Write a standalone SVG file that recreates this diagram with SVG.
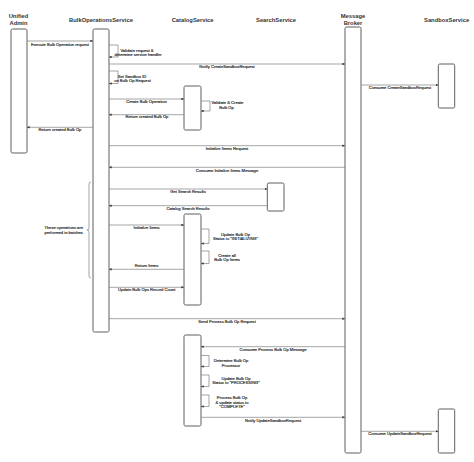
<svg xmlns="http://www.w3.org/2000/svg" width="474" height="462" viewBox="0 0 474 462">
<defs>
<marker id="ah" viewBox="0 0 6 6" refX="6" refY="3" markerWidth="3" markerHeight="2.6" markerUnits="userSpaceOnUse" orient="auto"><path d="M0,0 L6,3 L0,6 z" fill="#333"/></marker>
</defs>
<style>
.act{fill:#fff;stroke:#5f5f5f;stroke-width:1}
.hdr{font-family:"Liberation Sans",Arial,sans-serif;font-weight:bold;font-size:5.8px;fill:#333;text-anchor:middle}
.lbl{font-family:"Liberation Sans",Arial,sans-serif;font-size:4.1px;fill:#222;stroke:#222;stroke-width:0.15;text-anchor:middle}
.msg{fill:none;stroke:#808080;stroke-width:0.7;marker-end:url(#ah)}
.brace{fill:none;stroke:#808080;stroke-width:0.7}
</style>
<rect width="474" height="462" fill="#fff"/>
<g id="unified-admin">
<text class="hdr" x="18.5" y="17.7">Unified</text>
<text class="hdr" x="18.5" y="25.2">Admin</text>
<rect class="act" x="11" y="29" width="16" height="124" rx="1.5"/>
</g>
<g id="bulk-operations-service">
<text class="hdr" x="101" y="21.5">BulkOperationsService</text>
<rect class="act" x="93" y="29" width="16" height="303" rx="1.5"/>
</g>
<g id="catalog-service">
<text class="hdr" x="192.6" y="22.1">CatalogService</text>
<rect class="act" x="184" y="86" width="17" height="44" rx="1.5"/>
<rect class="act" x="184" y="214" width="17" height="91" rx="1.5"/>
<rect class="act" x="184" y="335" width="17" height="91" rx="1.5"/>
</g>
<g id="search-service">
<text class="hdr" x="276" y="22.1">SearchService</text>
<rect class="act" x="267.3" y="183" width="16.7" height="28" rx="1.5"/>
</g>
<g id="message-broker">
<text class="hdr" x="353" y="17.8">Message</text>
<text class="hdr" x="353" y="25.4">Broker</text>
<rect class="act" x="345" y="27" width="16" height="426" rx="1.5"/>
</g>
<g id="sandbox-service">
<text class="hdr" x="446.6" y="22.1">SandboxService</text>
<rect class="act" x="438.3" y="64" width="16.4" height="44" rx="1.5"/>
<rect class="act" x="438.3" y="409" width="16.4" height="44" rx="1.5"/>
</g>
<g id="batch-note">
<path class="brace" d="M91,182 Q89,182 89,184 V228 Q89,230 87,230 Q89,230 89,232 V276 Q89,278 91,278"/>
<text class="lbl" x="63.7" y="228.7">These operations are</text>
<text class="lbl" x="63.7" y="234.1">performed in batches</text>
</g>
<g id="connectors">
<path class="msg" d="M27,41 H93"/>
<text class="lbl" x="60" y="45.7">Execute Bulk Operation request</text>
<path class="msg" d="M109,45 H118 V57 H109"/>
<text class="lbl" x="137" y="51.9">Validate request &amp;</text>
<text class="lbl" x="138" y="56.4">determine service handler</text>
<path class="msg" d="M109,64 H345"/>
<text class="lbl" x="227" y="68.4">Notify CreateSandboxRequest</text>
<path class="msg" d="M109,71 H118 V83.5 H109"/>
<text class="lbl" x="132" y="77.7">Set Sandbox ID</text>
<text class="lbl" x="132.5" y="82.2">on Bulk Op Request</text>
<path class="msg" d="M361,85 H438.3"/>
<text class="lbl" x="400" y="89.4">Consume CreateSandboxRequest</text>
<path class="msg" d="M109,99 H184"/>
<text class="lbl" x="146.5" y="103.1">Create Bulk Operation</text>
<path class="msg" d="M201,101 H210 V111 H201"/>
<text class="lbl" x="227.5" y="104.1">Validate &amp; Create</text>
<text class="lbl" x="226.5" y="109.1">Bulk Op</text>
<path class="msg" d="M184,114.7 H109"/>
<text class="lbl" x="147" y="118.4">Return created Bulk Op</text>
<path class="msg" d="M93,127.3 H27"/>
<text class="lbl" x="60" y="131.4">Return created Bulk Op</text>
<path class="msg" d="M109,145.7 H345"/>
<text class="lbl" x="227" y="150.4">Initialize Items Request</text>
<path class="msg" d="M345,167.3 H109"/>
<text class="lbl" x="227" y="171.7">Consume Initialize Items Message</text>
<path class="msg" d="M109,189 H267.3"/>
<text class="lbl" x="188" y="193.1">Get Search Results</text>
<path class="msg" d="M267.3,205.7 H109"/>
<text class="lbl" x="188" y="209.7">Catalog Search Results</text>
<path class="msg" d="M109,225 H184"/>
<text class="lbl" x="146.5" y="229.4">Initialize Items</text>
<path class="msg" d="M201,229 H209 V243.5 H201"/>
<text class="lbl" x="235.5" y="235.7">Update Bulk Op</text>
<text class="lbl" x="235.5" y="240.4">Status to "INITIALIZING"</text>
<path class="msg" d="M201,251 H209 V263.5 H201"/>
<text class="lbl" x="227" y="256.9">Create all</text>
<text class="lbl" x="227" y="261.4">Bulk Op Items</text>
<path class="msg" d="M184,269.3 H109"/>
<text class="lbl" x="146.5" y="266.7">Return Items</text>
<path class="msg" d="M109,287.3 H184"/>
<text class="lbl" x="146.7" y="291.4">Update Bulk Ops Record Count</text>
<path class="msg" d="M109,318.7 H345"/>
<text class="lbl" x="227" y="323.1">Send Process Bulk Op Request</text>
<path class="msg" d="M345,346.7 H201"/>
<text class="lbl" x="273" y="350.7">Consume Process Bulk Op Message</text>
<path class="msg" d="M201,355.5 H209 V366.5 H201"/>
<text class="lbl" x="231" y="361.9">Determine Bulk Op</text>
<text class="lbl" x="231" y="366.6">Processor</text>
<path class="msg" d="M201,375 H209 V386.5 H201"/>
<text class="lbl" x="236" y="379.7">Update Bulk Op</text>
<text class="lbl" x="236" y="384.2">Status to "PROCESSING"</text>
<path class="msg" d="M201,395 H209 V406.5 H201"/>
<text class="lbl" x="232" y="399.4">Process Bulk Op</text>
<text class="lbl" x="232" y="403.9">&amp; update status to</text>
<text class="lbl" x="232" y="408.4">"COMPLETE"</text>
<path class="msg" d="M201,417.3 H345"/>
<text class="lbl" x="273" y="421.7">Notify UpdateSandboxRequest</text>
<path class="msg" d="M361,431.3 H438.3"/>
<text class="lbl" x="400" y="435.4">Consume UpdateSandboxRequest</text>
</g>
</svg>
